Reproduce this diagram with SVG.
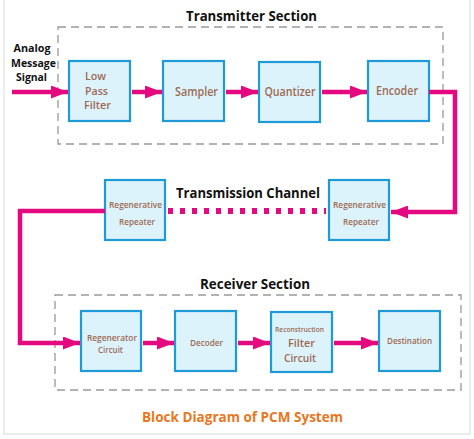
<svg xmlns="http://www.w3.org/2000/svg" width="474" height="439" viewBox="0 0 474 439">
<defs>
<marker id="ah" markerUnits="userSpaceOnUse" markerWidth="18" markerHeight="13" refX="17" refY="6.5" orient="auto">
<path d="M0,0 L17,6.5 L0,13 Z" fill="#E5097F"/>
</marker>
<style>
.box{fill:#DDF3FC;stroke:#1E9AD6;stroke-width:2.2}
.sec{fill:none;stroke:#999;stroke-width:1.3;stroke-dasharray:8 5}
.lnk{fill:none;stroke:#E5097F;stroke-width:4.5}
.t{font-family:"Open Sans","Liberation Sans",sans-serif;font-weight:600;fill:#9C6A52;text-anchor:middle}
.h{font-family:"Open Sans","Liberation Sans",sans-serif;font-weight:700;fill:#111;text-anchor:middle}
.o{fill:#E87722}
</style>
</defs>
<rect x="0" y="0" width="474" height="439" fill="#fff"/>
<rect x="4" y="-3" width="466" height="437" fill="none" stroke="#e6e6e6" stroke-width="1.5"/>

<g id="sections">
<rect class="sec" x="58" y="27" width="385" height="117"/>
<rect class="sec" x="55" y="295" width="406" height="95"/>
</g>

<g id="titles">
<text class="h" x="251.5" y="21" font-size="15" textLength="131" lengthAdjust="spacingAndGlyphs">Transmitter Section</text>
<text class="h" x="248" y="198" font-size="15" textLength="144" lengthAdjust="spacingAndGlyphs">Transmission Channel</text>
<text class="h" x="255" y="289" font-size="15" textLength="110" lengthAdjust="spacingAndGlyphs">Receiver Section</text>
<text class="h o" x="242.5" y="422" font-size="15" textLength="201" lengthAdjust="spacingAndGlyphs">Block Diagram of PCM System</text>
</g>

<g id="input-label">
<text class="h" x="32" y="52" font-size="11" textLength="37" lengthAdjust="spacingAndGlyphs">Analog</text>
<text class="h" x="33.5" y="67" font-size="11" textLength="45" lengthAdjust="spacingAndGlyphs">Message</text>
<text class="h" x="31.5" y="80.5" font-size="11" textLength="31" lengthAdjust="spacingAndGlyphs">Signal</text>
</g>

<g id="lpf">
<rect class="box" x="69" y="61" width="61" height="60"/>
<text class="t" x="85" y="80" font-size="11" style="text-anchor:start" textLength="21" lengthAdjust="spacingAndGlyphs">Low</text>
<text class="t" x="85" y="94.5" font-size="11" style="text-anchor:start" textLength="23" lengthAdjust="spacingAndGlyphs">Pass</text>
<text class="t" x="84" y="109" font-size="11" style="text-anchor:start" textLength="27" lengthAdjust="spacingAndGlyphs">Filter</text>
</g>
<g id="sampler">
<rect class="box" x="163" y="61" width="61" height="60"/>
<text class="t" x="196.5" y="96" font-size="12" textLength="43" lengthAdjust="spacingAndGlyphs">Sampler</text>
</g>
<g id="quantizer">
<rect class="box" x="259" y="62" width="61" height="60"/>
<text class="t" x="290" y="96" font-size="12" textLength="51" lengthAdjust="spacingAndGlyphs">Quantizer</text>
</g>
<g id="encoder">
<rect class="box" x="368" y="61" width="61" height="60"/>
<text class="t" x="397" y="95" font-size="12" textLength="42" lengthAdjust="spacingAndGlyphs">Encoder</text>
</g>

<g id="repeater-right">
<rect class="box" x="329" y="180" width="60" height="60"/>
<text class="t" x="359.5" y="207.5" font-size="9.5" textLength="53" lengthAdjust="spacingAndGlyphs">Regenerative</text>
<text class="t" x="361" y="224.5" font-size="9.5" textLength="36" lengthAdjust="spacingAndGlyphs">Repeater</text>
</g>
<g id="repeater-left">
<rect class="box" x="105" y="180" width="60" height="60"/>
<text class="t" x="135.5" y="207.5" font-size="9.5" textLength="53" lengthAdjust="spacingAndGlyphs">Regenerative</text>
<text class="t" x="137" y="224.5" font-size="9.5" textLength="36" lengthAdjust="spacingAndGlyphs">Repeater</text>
</g>

<g id="regenerator">
<rect class="box" x="81" y="311" width="60" height="60"/>
<text class="t" x="112" y="340.5" font-size="8.5" textLength="50" lengthAdjust="spacingAndGlyphs">Regenerator</text>
<text class="t" x="110.5" y="352.5" font-size="8.5" textLength="25" lengthAdjust="spacingAndGlyphs">Circuit</text>
</g>
<g id="decoder">
<rect class="box" x="175" y="311" width="61" height="60"/>
<text class="t" x="206.5" y="346" font-size="9.5" textLength="33" lengthAdjust="spacingAndGlyphs">Decoder</text>
</g>
<g id="reconstruction">
<rect class="box" x="271" y="312" width="61" height="60"/>
<text class="t" x="299.5" y="332" font-size="7" textLength="49" lengthAdjust="spacingAndGlyphs">Reconstruction</text>
<text class="t" x="301.5" y="346.5" font-size="11" textLength="27" lengthAdjust="spacingAndGlyphs">Filter</text>
<text class="t" x="300" y="362" font-size="11" textLength="32" lengthAdjust="spacingAndGlyphs">Circuit</text>
</g>
<g id="destination">
<rect class="box" x="379" y="311" width="61" height="60"/>
<text class="t" x="409.5" y="344" font-size="9.5" textLength="45" lengthAdjust="spacingAndGlyphs">Destination</text>
</g>

<g id="connectors">
<line class="lnk" x1="12" y1="92" x2="68" y2="92" marker-end="url(#ah)"/>
<line class="lnk" x1="132" y1="92" x2="162" y2="92" marker-end="url(#ah)"/>
<line class="lnk" x1="226" y1="92" x2="258" y2="92" marker-end="url(#ah)"/>
<line class="lnk" x1="322" y1="92" x2="367" y2="92" marker-end="url(#ah)"/>
<polyline class="lnk" points="429,92 455,92 455,212 391,212" marker-end="url(#ah)"/>
<line x1="168" y1="211" x2="326" y2="211" stroke="#E5097F" stroke-width="6" stroke-dasharray="5 7"/>
<polyline class="lnk" points="105,211 20,211 20,343 80,343" marker-end="url(#ah)"/>
<line class="lnk" x1="143" y1="343" x2="174" y2="343" marker-end="url(#ah)"/>
<line class="lnk" x1="238" y1="343" x2="270" y2="343" marker-end="url(#ah)"/>
<line class="lnk" x1="334" y1="343" x2="378" y2="343" marker-end="url(#ah)"/>
</g>
</svg>
